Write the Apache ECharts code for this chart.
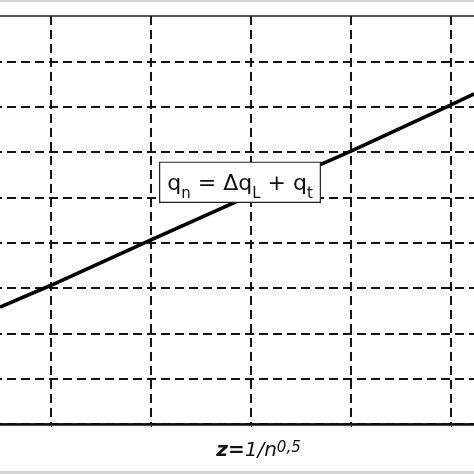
<!DOCTYPE html>
<html>
<head>
<meta charset="utf-8">
<script src="https://cdn.jsdelivr.net/npm/echarts@6/dist/echarts.min.js"></script>
<style>html,body{margin:0;padding:0;background:#fff;overflow:hidden;width:474px;height:474px}#c{position:absolute;left:-49px;top:0;width:600px;height:474px}</style>
</head>
<body>
<div id="c"></div>
<script>
// z = 1/n^0.5 (arbitrary units, one per grid column)
const zValues = [0.49, 1, 2, 3, 4, 5, 5.23];
// q_n values (arbitrary units, one per grid row)
const qnValues = [2.58, 3.06, 4.06, 5.05, 6.02, 7.04, 7.28];
const labelPos = [2.89, 5.33];
const axisTitle = '{b|z=}{i|1/n}{s|0,5}';
const formula = '{m|q}{s|n}{m| = Δq}{s|L}{m| + q}{s|t}';

const chart = echarts.init(document.getElementById('c'), null, {renderer: 'canvas'});
const dash = {color: '#151515', width: 2, type: [9, 5]};
const F = 'DejaVu Sans';
chart.setOption({
  backgroundColor: '#fff',
  animation: false,
  grid: {left: 0, right: 0, top: 16, bottom: 50, show: true, borderColor: '#222', borderWidth: 1.5, backgroundColor: '#fff'},
  xAxis: {
    type: 'value', min: 0, max: 6, interval: 1,
    axisLine: {show: true, lineStyle: {color: '#111', width: 2.5}},
    axisTick: {show: true, length: 3, lineStyle: {color: '#333', width: 1}},
    axisLabel: {show: false},
    splitLine: {show: true, lineStyle: dash},
    name: axisTitle, nameLocation: 'middle', nameGap: 17,
    nameTextStyle: {
      padding: [0, 0, 0, 15],
      rich: {
        b: {fontFamily: F, fontSize: 20, fontStyle: 'italic', fontWeight: 'bold', color: '#111'},
        i: {fontFamily: F, fontSize: 20, fontStyle: 'italic', color: '#111'},
        s: {fontFamily: F, fontSize: 15, fontStyle: 'italic', color: '#111', verticalAlign: 'top'}
      }
    }
  },
  yAxis: {
    type: 'value', min: 0, max: 9, interval: 1,
    axisLine: {show: false}, axisTick: {show: false}, axisLabel: {show: false},
    splitLine: {show: true, showMaxLine: false, lineStyle: dash}
  },
  series: [{
    type: 'line',
    data: zValues.map((z, i) => [z, qnValues[i]]),
    symbol: 'none',
    lineStyle: {color: '#000', width: 3.6},
    markPoint: {
      symbol: 'circle', symbolSize: 0,
      data: [{coord: labelPos}],
      label: {
        show: true, position: 'inside', formatter: formula,
        backgroundColor: '#fff', borderColor: '#222', borderWidth: 1.2,
        padding: [10, 7, 0, 7],
        rich: {
          m: {fontFamily: F, fontSize: 22, color: '#111', lineHeight: 29, verticalAlign: 'top'},
          s: {fontFamily: F, fontSize: 15, color: '#111', verticalAlign: 'top', padding: [14, 0, 0, 0]}
        }
      }
    }
  }],
  graphic: [
    {type: 'rect', left: 0, top: 0, shape: {width: 600, height: 2}, style: {fill: '#d4d4d4'}},
    {type: 'rect', left: 0, top: 471, shape: {width: 600, height: 3}, style: {fill: '#d4d4d4'}}
  ]
});
</script>
</body>
</html>
